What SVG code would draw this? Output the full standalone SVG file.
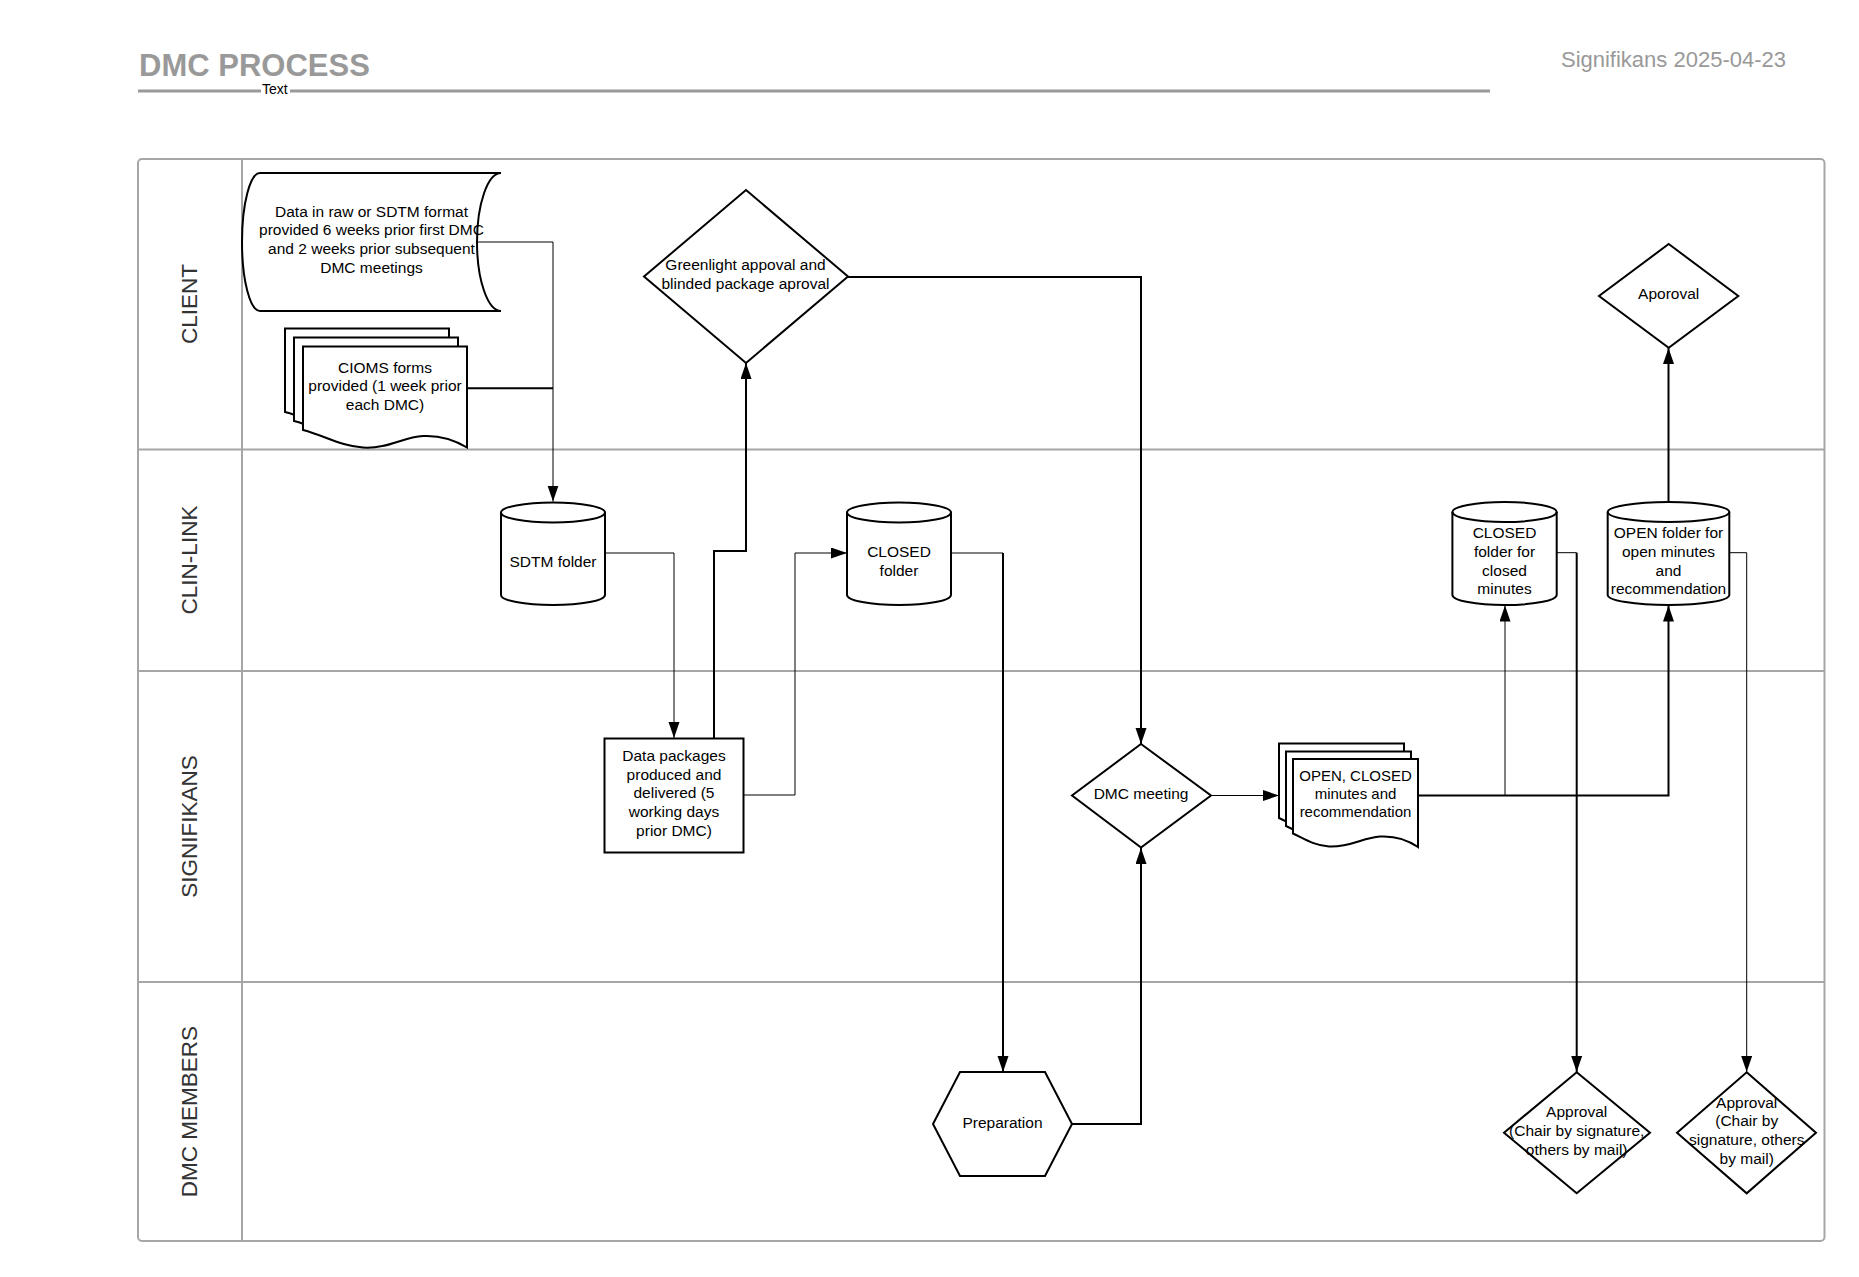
<svg xmlns="http://www.w3.org/2000/svg" width="1859" height="1277" viewBox="0 0 1859 1277">
<defs>
<style>
.t{font-family:"Liberation Sans",Arial,sans-serif;font-size:15.5px;fill:#000;text-anchor:middle}
.lane{font-family:"Liberation Sans",Arial,sans-serif;font-size:22.5px;fill:#333;text-anchor:middle}
.shape{fill:#fff;stroke:#000;stroke-width:2}
.c1{fill:none;stroke:#000;stroke-width:1}
.c2{fill:none;stroke:#000;stroke-width:2}
.pool{fill:none;stroke:#a6a6a6;stroke-width:2}
</style>
<marker id="arr" markerUnits="userSpaceOnUse" markerWidth="17" markerHeight="12" refX="16" refY="5.5" orient="auto">
<path d="M0,0 L16,5.5 L0,11 Z" fill="#000"/>
</marker>
</defs>
<rect width="1859" height="1277" fill="#fff"/>

<g id="header">
<text x="139" y="76" font-family="Liberation Sans,Arial,sans-serif" font-size="31" font-weight="bold" fill="#999">DMC PROCESS</text>
<path d="M138,91 H1490" stroke="#999" stroke-width="3" fill="none"/>
<rect x="261" y="82" width="29" height="14" fill="#fff"/>
<text x="262" y="94" font-family="Liberation Sans,Arial,sans-serif" font-size="14" fill="#000">Text</text>
<text x="1786" y="67" font-family="Liberation Sans,Arial,sans-serif" font-size="22" fill="#999" text-anchor="end">Signifikans 2025-04-23</text>
</g>

<g id="pool">
<rect class="pool" x="138" y="159" width="1686.5" height="1082" rx="4"/>
<path class="pool" d="M242,159 V1241 M138,449.5 H1824.5 M138,671 H1824.5 M138,982 H1824.5"/>
<text class="lane" transform="translate(197,304) rotate(-90)">CLIENT</text>
<text class="lane" transform="translate(197,560) rotate(-90)">CLIN-LINK</text>
<text class="lane" transform="translate(197,826.5) rotate(-90)">SIGNIFIKANS</text>
<text class="lane" transform="translate(197,1111.5) rotate(-90)">DMC MEMBERS</text>
</g>

<g id="connectors">
<path class="c1" d="M477,242 H553 V501.5" marker-end="url(#arr)"/>
<path class="c2" d="M467,388.3 H553"/>
<path class="c1" d="M605,553 H674 V738" marker-end="url(#arr)"/>
<path class="c2" d="M714,738 V551 H746 V363" marker-end="url(#arr)"/>
<path class="c1" d="M743,795 H795 V553 H847" marker-end="url(#arr)"/>
<path class="c1" d="M951,553 H1003"/>
<path class="c2" d="M1003,553 V1072" marker-end="url(#arr)"/>
<path class="c2" d="M848,277 H1141 V744" marker-end="url(#arr)"/>
<path class="c2" d="M1072,1124 H1141 V848" marker-end="url(#arr)"/>
<path class="c1" d="M1211,795.5 H1279" marker-end="url(#arr)"/>
<path class="c1" d="M1418,795.5 H1505 V605.5" marker-end="url(#arr)"/>
<path class="c2" d="M1418,795.5 H1668.5 V605.5" marker-end="url(#arr)"/>
<path class="c2" d="M1668.5,501.5 V348" marker-end="url(#arr)"/>
<path class="c1" d="M1557,552.7 H1576.7"/>
<path class="c2" d="M1576.7,552.7 V1072" marker-end="url(#arr)"/>
<path class="c1" d="M1729.5,552.7 H1746.7 V1072" marker-end="url(#arr)"/>
</g>

<g id="data-raw">
<path class="shape" d="M260,173 H501 A24,69 0 0 0 501,311 H260 A18,69 0 0 1 260,173 Z"/>
<text class="t" x="371.5" y="216.7">Data in raw or SDTM format</text>
<text class="t" x="371.5" y="235.3">provided 6 weeks prior first DMC</text>
<text class="t" x="371.5" y="254">and 2 weeks prior subsequent</text>
<text class="t" x="371.5" y="272.7">DMC meetings</text>
</g>

<g id="cioms">
<path class="shape" d="M285,328.5 H449 V429.5 C440,424 425,417 405,418 C385,419 370,431 345,429.5 C322,428 308,418 285,412 Z"/>
<path class="shape" d="M294,337.5 H458 V438.5 C449,433 434,426 414,427 C394,428 379,440 354,438.5 C331,437 317,427 294,421 Z"/>
<path class="shape" d="M303,346.5 H467 V447.5 C458,442 443,435 423,436 C403,437 388,449 363,447.5 C340,446 326,436 303,430 Z"/>
<text class="t" x="385" y="372.7">CIOMS forms</text>
<text class="t" x="385" y="391.3">provided (1 week prior</text>
<text class="t" x="385" y="410">each DMC)</text>
</g>

<g id="greenlight">
<path class="shape" d="M746,190 L848,276.5 L746,363 L644,276.5 Z"/>
<text class="t" x="745.5" y="270">Greenlight appoval and</text>
<text class="t" x="745.5" y="288.5">blinded package aproval</text>
</g>

<g id="sdtm-folder">
<path class="shape" d="M501,512.5 A52,10 0 0 1 605,512.5 V595 A52,10 0 0 1 501,595 Z"/>
<path class="c2" d="M501,512.5 A52,10 0 0 0 605,512.5"/>
<text class="t" x="553" y="567">SDTM folder</text>
</g>

<g id="closed-folder">
<path class="shape" d="M847,512.5 A52,10 0 0 1 951,512.5 V595 A52,10 0 0 1 847,595 Z"/>
<path class="c2" d="M847,512.5 A52,10 0 0 0 951,512.5"/>
<text class="t" x="899" y="557.3">CLOSED</text>
<text class="t" x="899" y="576">folder</text>
</g>

<g id="data-packages">
<rect class="shape" x="604.5" y="738.5" width="139" height="114"/>
<text class="t" x="674" y="761">Data packages</text>
<text class="t" x="674" y="779.7">produced and</text>
<text class="t" x="674" y="798.3">delivered (5</text>
<text class="t" x="674" y="817">working days</text>
<text class="t" x="674" y="835.7">prior DMC)</text>
</g>

<g id="dmc-meeting">
<path class="shape" d="M1141,744 L1211,795.5 L1141,847.5 L1072,795.5 Z"/>
<text class="t" x="1141" y="798.5">DMC meeting</text>
</g>

<g id="preparation">
<path class="shape" d="M933,1124 L960,1072 L1045,1072 L1072,1124 L1045,1176 L960,1176 Z"/>
<text class="t" x="1002.5" y="1127.5">Preparation</text>
</g>

<g id="minutes">
<path class="shape" d="M1279,743.5 H1404 V831.5 C1396,826 1383,820 1366,821 C1349,822 1336,832 1315,831 C1300,830 1290,823 1279,818 Z"/>
<path class="shape" d="M1286,751.5 H1411 V839.5 C1403,834 1390,828 1373,829 C1356,830 1343,840 1322,839 C1307,838 1297,831 1286,826 Z"/>
<path class="shape" d="M1293,759 H1418 V847 C1410,841.5 1397,835.5 1380,836.5 C1363,837.5 1350,847.5 1329,846.5 C1314,845.5 1304,838.5 1293,833.5 Z"/>
<text class="t" x="1355.5" y="781" style="font-size:15px">OPEN, CLOSED</text>
<text class="t" x="1355.5" y="799" style="font-size:15px">minutes and</text>
<text class="t" x="1355.5" y="817" style="font-size:15px">recommendation</text>
</g>

<g id="closed-minutes-folder">
<path class="shape" d="M1452.4,512 A52.15,10 0 0 1 1556.7,512 V595 A52.15,10 0 0 1 1452.4,595 Z"/>
<path class="c2" d="M1452.4,512 A52.15,10 0 0 0 1556.7,512"/>
<text class="t" x="1504.5" y="538.3">CLOSED</text>
<text class="t" x="1504.5" y="557">folder for</text>
<text class="t" x="1504.5" y="575.7">closed</text>
<text class="t" x="1504.5" y="594.3">minutes</text>
</g>

<g id="open-folder">
<path class="shape" d="M1607.7,512 A60.8,10 0 0 1 1729.3,512 V595 A60.8,10 0 0 1 1607.7,595 Z"/>
<path class="c2" d="M1607.7,512 A60.8,10 0 0 0 1729.3,512"/>
<text class="t" x="1668.5" y="538.3">OPEN folder for</text>
<text class="t" x="1668.5" y="557">open minutes</text>
<text class="t" x="1668.5" y="575.7">and</text>
<text class="t" x="1668.5" y="594.3">recommendation</text>
</g>

<g id="aporoval">
<path class="shape" d="M1668.7,244 L1738.3,296 L1668.7,347.7 L1599,296 Z"/>
<text class="t" x="1668.7" y="299">Aporoval</text>
</g>

<g id="approval-closed">
<path class="shape" d="M1576.7,1072.3 L1650,1132.7 L1576.7,1193.3 L1504,1132.7 Z"/>
<text class="t" x="1576.7" y="1117.3">Approval</text>
<text class="t" x="1576.7" y="1136">(Chair by signature,</text>
<text class="t" x="1576.7" y="1154.5">others by mail)</text>
</g>

<g id="approval-open">
<path class="shape" d="M1746.7,1072.3 L1816,1132.7 L1746.7,1193.3 L1677,1132.7 Z"/>
<text class="t" x="1746.7" y="1107.7">Approval</text>
<text class="t" x="1746.7" y="1126.3">(Chair by</text>
<text class="t" x="1746.7" y="1145">signature, others</text>
<text class="t" x="1746.7" y="1163.7">by mail)</text>
</g>
</svg>
